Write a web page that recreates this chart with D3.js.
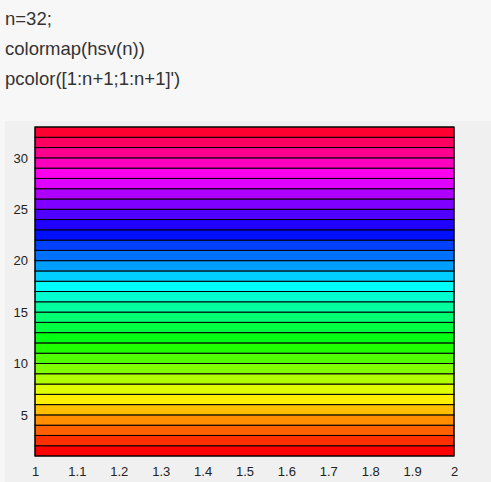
<!DOCTYPE html><html><head><meta charset="utf-8">
<script src="https://cdn.jsdelivr.net/npm/d3@7"></script>
<style>body{margin:0;background:#f7f7f7;font-family:"Liberation Sans",Arial,sans-serif}</style></head><body>
<svg id="c" width="491" height="482"></svg>
<script>
const codeLines=["n=32;","colormap(hsv(n))","pcolor([1:n+1;1:n+1]')"];
const n=32;
const rows=d3.range(1,n+1); // cell i spans y=i..i+1, colour index i
const yTicks=[5,10,15,20,25,30];
const xTicks=[1,1.1,1.2,1.3,1.4,1.5,1.6,1.7,1.8,1.9,2];
const svg=d3.select("#c");
svg.selectAll("text.code").data(codeLines).join("text").attr("x",5).attr("y",(d,i)=>25+i*30)
 .attr("font-size",18.5).attr("fill","#333").text(d=>d);
svg.append("rect").attr("x",5).attr("y",121).attr("width",486).attr("height",361).attr("fill","#f0f0f0");
const x=d3.scaleLinear().domain([1,2]).range([35,454]);
const y=d3.scaleLinear().domain([1,33]).range([456,127]);
function col(i){const h=(i-1)/n*360;return d3.rgb(d3.hsl(h,1,0.5)).formatHex();}
svg.selectAll("rect.cell").data(rows).join("rect").attr("x",x(1)).attr("width",x(2)-x(1))
 .attr("y",d=>y(d+1)).attr("height",d=>y(d)-y(d+1)).attr("fill",d=>col(d)).attr("stroke","#000").attr("stroke-width",1);
svg.append("rect").attr("x",x(1)).attr("y",y(33)).attr("width",x(2)-x(1)).attr("height",y(1)-y(33)).attr("fill","none").attr("stroke","#000");
const ax=svg.append("g").attr("transform",`translate(0,${y(1)})`).call(d3.axisBottom(x).tickValues(xTicks).tickSize(0).tickPadding(11).tickFormat(d3.format("")));
const ay=svg.append("g").attr("transform",`translate(${x(1)},0)`).call(d3.axisLeft(y).tickValues(yTicks).tickSize(0).tickPadding(7));
[ax,ay].forEach(a=>{a.select(".domain").remove();a.selectAll("text").attr("font-size",13).attr("fill","#222").attr("font-family","Liberation Sans,Arial");});
</script></body></html>
